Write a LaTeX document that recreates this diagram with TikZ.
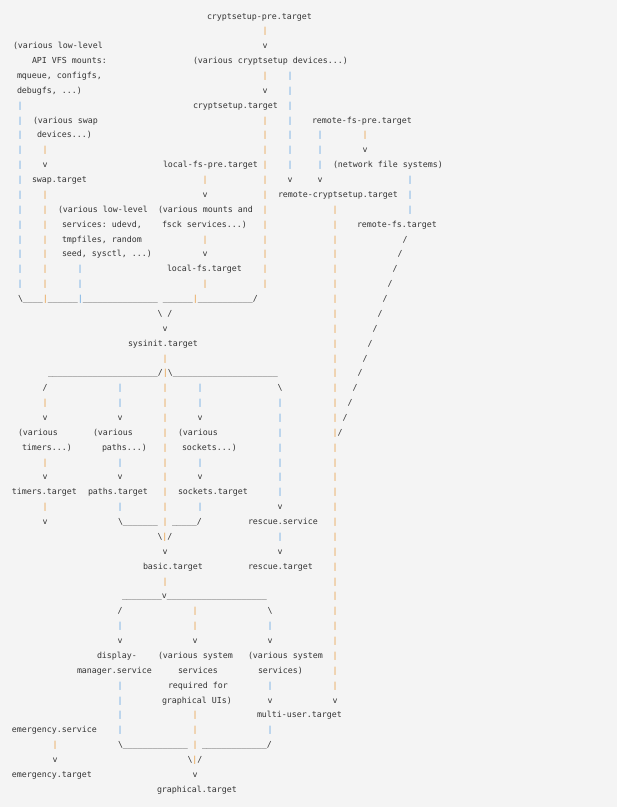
\documentclass[tikz,border=0pt]{standalone}
\usepackage{fontspec}
\setmonofont{DejaVu Sans Mono}
\definecolor{bg}{HTML}{F4F4F4}
\definecolor{ink}{HTML}{333333}
\definecolor{orb}{HTML}{E89A3C}
\definecolor{blb}{HTML}{5A9FE0}
% row r sits at y = -(18.5 + 14.87 r): baseline of the text
\newcommand\Lt[3]{\node[txt,anchor=base west] at (#2,{-(19+14.87*#1)}) {#3};}
\newcommand\Ct[3]{\node[txt,anchor=base] at (#2,{-(19+14.87*#1)}) {#3};}
\newcommand\Ob[2]{\node[txt,anchor=base,text=orb] at (#2,{-(19+14.87*#1)}) {|};}
\newcommand\Bb[2]{\node[txt,anchor=base,text=blb] at (#2,{-(19+14.87*#1)}) {|};}
\newcommand\Vc[2]{\Ct{#1}{#2}{v}}
\newcommand\OB{\textcolor{orb}{|}}
\newcommand\BB{\textcolor{blb}{|}}
\newcommand\BS{\textbackslash}
\begin{document}
\begin{tikzpicture}[x=1pt,y=1pt,
  txt/.style={inner sep=0pt,outer sep=0pt,text=ink,font=\ttfamily\fontsize{8.3}{10}\selectfont}]
\fill[bg] (0,0) rectangle (617,-807);
\useasboundingbox (0,0) rectangle (617,-807);
% top block
\Lt{0}{207}{cryptsetup-pre.target}
\Ob{1}{265}
\Lt{2}{13}{(various low-level} \Vc{2}{265}
\Lt{3}{32}{API VFS mounts:} \Lt{3}{193}{(various cryptsetup devices...)}
\Lt{4}{17}{mqueue, configfs,} \Ob{4}{265} \Bb{4}{290}
\Lt{5}{17}{debugfs, ...)} \Vc{5}{265} \Bb{5}{290}
\Bb{6}{20} \Lt{6}{193}{cryptsetup.target} \Bb{6}{290}
\Bb{7}{20} \Lt{7}{33}{(various swap} \Ob{7}{265} \Bb{7}{290} \Lt{7}{312}{remote-fs-pre.target}
\Bb{8}{20} \Lt{8}{37}{devices...)} \Ob{8}{265} \Bb{8}{290} \Bb{8}{320} \Ob{8}{365}
\Bb{9}{20} \Ob{9}{45} \Ob{9}{265} \Bb{9}{290} \Bb{9}{320} \Vc{9}{365}
\Bb{10}{20} \Vc{10}{45} \Lt{10}{163}{local-fs-pre.target} \Ob{10}{265} \Bb{10}{290} \Bb{10}{320} \Lt{10}{333}{(network file systems)}
\Bb{11}{20} \Lt{11}{32}{swap.target} \Ob{11}{205} \Ob{11}{265} \Vc{11}{290} \Vc{11}{320} \Bb{11}{410}
\Bb{12}{20} \Ob{12}{45} \Vc{12}{205} \Ob{12}{265} \Lt{12}{278}{remote-cryptsetup.target} \Bb{12}{410}
\Bb{13}{20} \Ob{13}{45} \Lt{13}{58}{(various low-level} \Lt{13}{158}{(various mounts and} \Ob{13}{265} \Ob{13}{335} \Bb{13}{410}
\Bb{14}{20} \Ob{14}{45} \Lt{14}{62}{services: udevd,} \Lt{14}{162}{fsck services...)} \Ob{14}{265} \Ob{14}{335} \Lt{14}{357}{remote-fs.target}
\Bb{15}{20} \Ob{15}{45} \Lt{15}{62}{tmpfiles, random} \Ob{15}{205} \Ob{15}{265} \Ob{15}{335} \Ct{15}{405}{/}
\Bb{16}{20} \Ob{16}{45} \Lt{16}{62}{seed, sysctl, ...)} \Vc{16}{205} \Ob{16}{265} \Ob{16}{335} \Ct{16}{400}{/}
\Bb{17}{20} \Ob{17}{45} \Bb{17}{80} \Lt{17}{167}{local-fs.target} \Ob{17}{265} \Ob{17}{335} \Ct{17}{395}{/}
\Bb{18}{20} \Ob{18}{45} \Bb{18}{80} \Ob{18}{205} \Ob{18}{265} \Ob{18}{335} \Ct{18}{390}{/}
\Lt{19}{18}{\BS\_\_\_\_\OB\_\_\_\_\_\_\BB\_\_\_\_\_\_\_\_\_\_\_\_\_\_\_   \_\_\_\_\_\_\OB\_\_\_\_\_\_\_\_\_\_\_/} \Ob{19}{335} \Ct{19}{385}{/}
% sysinit
\Lt{20}{157.5}{\BS\ /} \Ob{20}{335} \Ct{20}{380}{/}
\Vc{21}{165} \Ob{21}{335} \Ct{21}{375}{/}
\Lt{22}{128}{sysinit.target} \Ob{22}{335} \Ct{22}{370}{/}
\Ob{23}{165} \Ob{23}{335} \Ct{23}{365}{/}
\Lt{24}{48}{\_\_\_\_\_\_\_\_\_\_\_\_\_\_\_\_\_\_\_\_\_\_/\OB\BS\_\_\_\_\_\_\_\_\_\_\_\_\_\_\_\_\_\_\_\_\_} \Ob{24}{335} \Ct{24}{360}{/}
\Ct{25}{45}{/} \Bb{25}{120} \Ob{25}{165} \Bb{25}{200} \Ct{25}{280}{\BS} \Ob{25}{335} \Ct{25}{355}{/}
\Ob{26}{45} \Bb{26}{120} \Ob{26}{165} \Bb{26}{200} \Bb{26}{280} \Ob{26}{335} \Ct{26}{350}{/}
\Vc{27}{45} \Vc{27}{120} \Ob{27}{165} \Vc{27}{200} \Bb{27}{280} \Ob{27}{335} \Ct{27}{345}{/}
\Lt{28}{18}{(various} \Lt{28}{93}{(various} \Ob{28}{165} \Lt{28}{178}{(various} \Bb{28}{280} \Ob{28}{335} \Ct{28}{340}{/}
\Lt{29}{22}{timers...)} \Lt{29}{102}{paths...)} \Ob{29}{165} \Lt{29}{182}{sockets...)} \Bb{29}{280} \Ob{29}{335}
\Ob{30}{45} \Bb{30}{120} \Ob{30}{165} \Bb{30}{200} \Bb{30}{280} \Ob{30}{335}
\Vc{31}{45} \Vc{31}{120} \Ob{31}{165} \Vc{31}{200} \Bb{31}{280} \Ob{31}{335}
\Lt{32}{12}{timers.target} \Lt{32}{88}{paths.target} \Ob{32}{165} \Lt{32}{178}{sockets.target} \Bb{32}{280} \Ob{32}{335}
\Ob{33}{45} \Bb{33}{120} \Ob{33}{165} \Bb{33}{200} \Vc{33}{280} \Ob{33}{335}
\Vc{34}{45} \Lt{34}{118}{\BS\_\_\_\_\_\_\_} \Ob{34}{165} \Lt{34}{172}{\_\_\_\_\_/} \Lt{34}{248}{rescue.service} \Ob{34}{335}
\Lt{35}{157.5}{\BS\OB/} \Bb{35}{280} \Ob{35}{335}
\Vc{36}{165} \Vc{36}{280} \Ob{36}{335}
\Lt{37}{143}{basic.target} \Lt{37}{248}{rescue.target} \Ob{37}{335}
\Ob{38}{165} \Ob{38}{335}
\Lt{39}{122}{\_\_\_\_\_\_\_\_v\_\_\_\_\_\_\_\_\_\_\_\_\_\_\_\_\_\_\_\_} \Ob{39}{335}
\Ct{40}{120}{/} \Ob{40}{195} \Ct{40}{270}{\BS} \Ob{40}{335}
\Bb{41}{120} \Ob{41}{195} \Bb{41}{270} \Ob{41}{335}
\Vc{42}{120} \Vc{42}{195} \Vc{42}{270} \Ob{42}{335}
\Lt{43}{97}{display-} \Lt{43}{158}{(various system} \Lt{43}{248}{(various system} \Ob{43}{335}
\Lt{44}{77}{manager.service} \Lt{44}{178}{services} \Lt{44}{258}{services)} \Ob{44}{335}
\Bb{45}{120} \Lt{45}{168}{required for} \Bb{45}{270} \Ob{45}{335}
\Bb{46}{120} \Lt{46}{162}{graphical UIs)} \Vc{46}{270} \Vc{46}{335}
\Bb{47}{120} \Ob{47}{195} \Lt{47}{257}{multi-user.target}
\Lt{48}{12}{emergency.service} \Bb{48}{120} \Ob{48}{195} \Bb{48}{270}
\Ob{49}{55} \Lt{49}{118}{\BS\_\_\_\_\_\_\_\_\_\_\_\_\_} \Ob{49}{195} \Lt{49}{202}{\_\_\_\_\_\_\_\_\_\_\_\_\_/}
\Vc{50}{55} \Lt{50}{187.5}{\BS\OB/}
\Lt{51}{12}{emergency.target} \Vc{51}{195}
\Lt{52}{157}{graphical.target}
\end{tikzpicture}
\end{document}
